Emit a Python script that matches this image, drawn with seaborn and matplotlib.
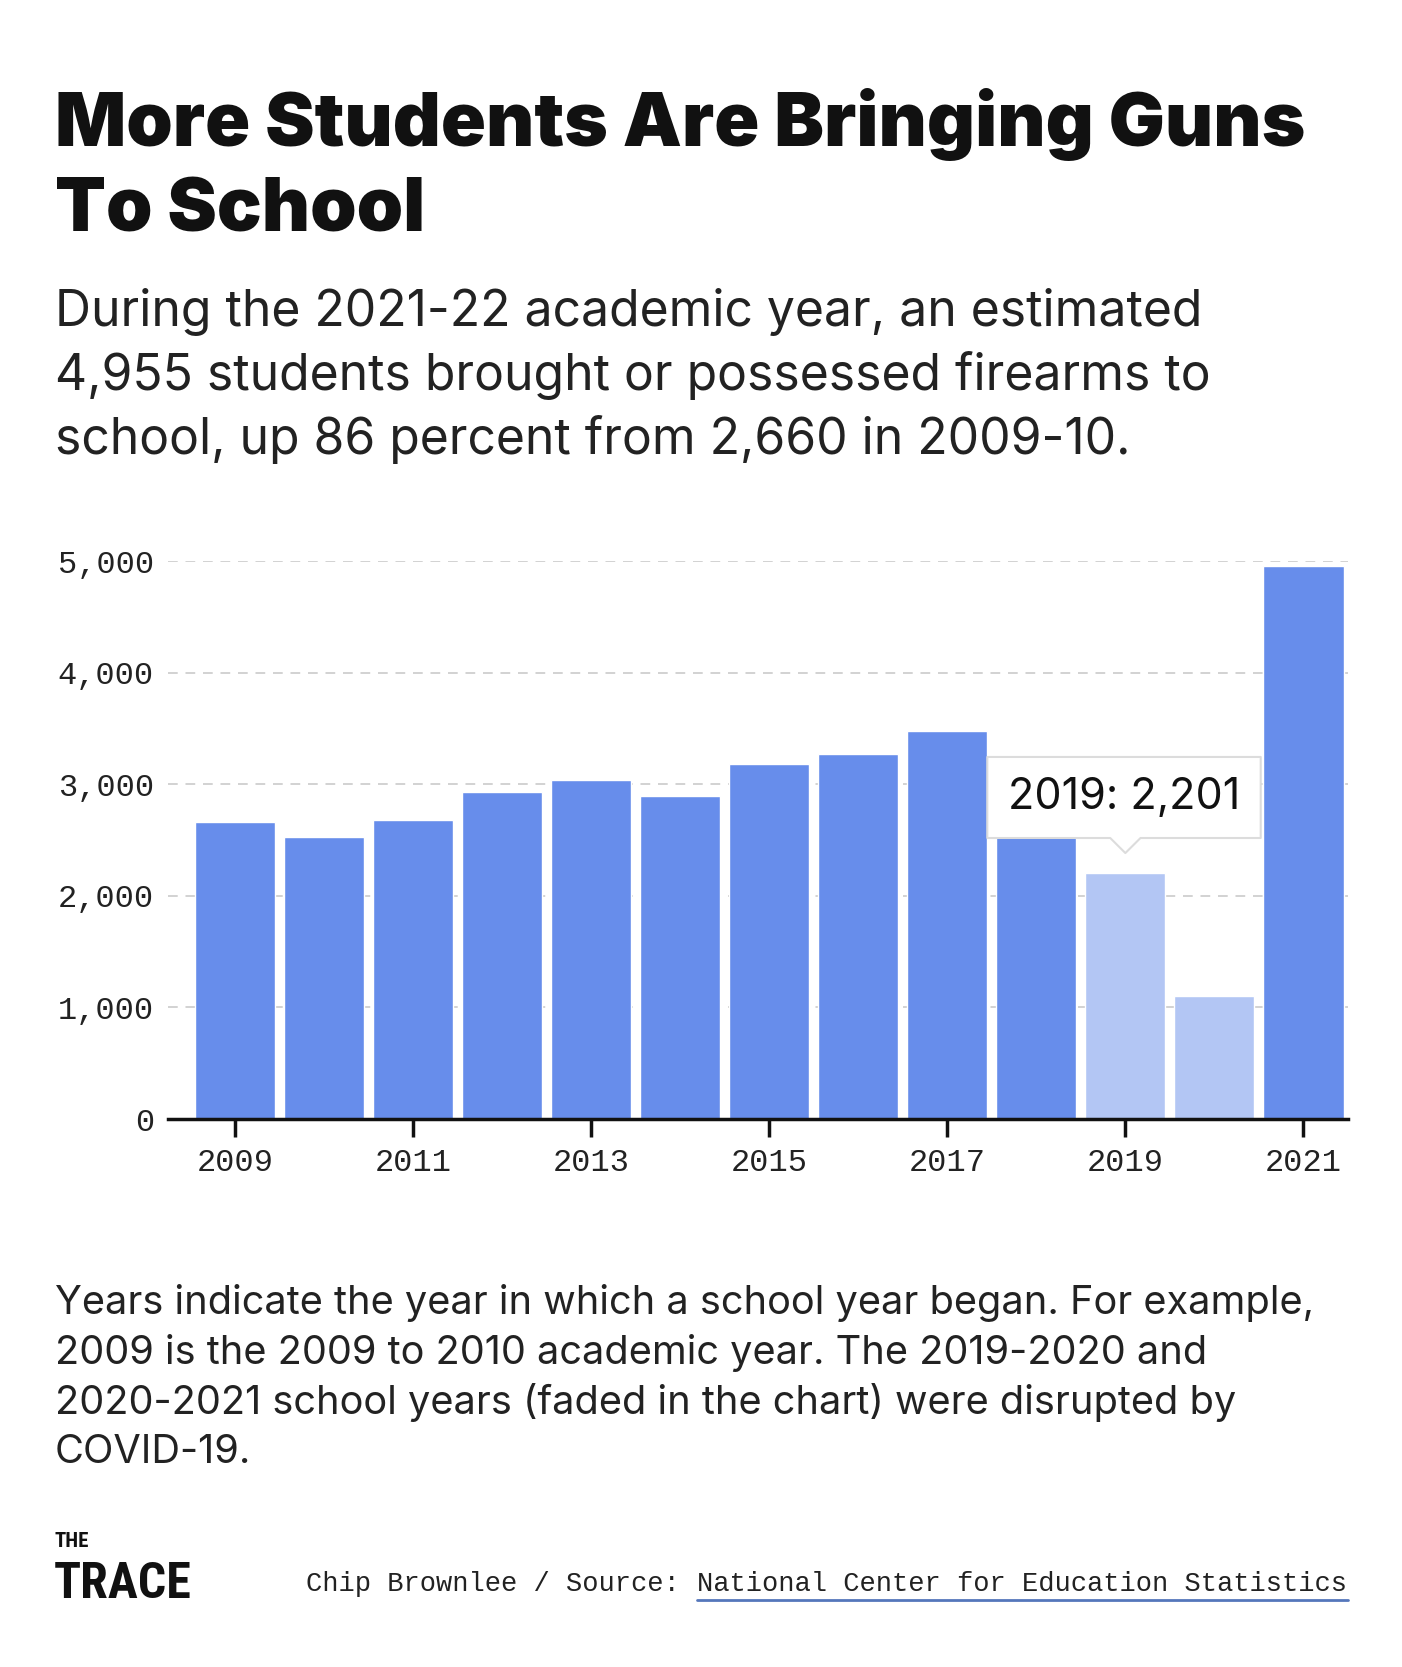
import matplotlib
matplotlib.use("Agg")
import matplotlib.pyplot as plt
import seaborn as sns
import pandas as pd
from matplotlib.patches import Polygon
from matplotlib.lines import Line2D
from matplotlib import font_manager

# ---- data ----
years = [2009, 2010, 2011, 2012, 2013, 2014, 2015, 2016, 2017, 2018, 2019, 2020, 2021]
students = [2660, 2530, 2680, 2930, 3040, 2890, 3180, 3270, 3480, 2600, 2201, 1100, 4955]
covid_years = [2019, 2020]
y_ticks = [0, 1000, 2000, 3000, 4000, 5000]
x_tick_years = [2009, 2011, 2013, 2015, 2017, 2019, 2021]

title_lines = ["More Students Are Bringing Guns", "To School"]
subtitle_lines = ["During the 2021-22 academic year, an estimated",
                  "4,955 students brought or possessed firearms to",
                  "school, up 86 percent from 2,660 in 2009-10."]
note_lines = ["Years indicate the year in which a school year began. For example,",
              "2009 is the 2009 to 2010 academic year. The 2019-2020 and",
              "2020-2021 school years (faded in the chart) were disrupted by",
              "COVID-19."]
tooltip_year = 2019

BLUE = "#678DEB"
FADED = "#B3C6F4"

sns.set_theme(style="white")
plt.rcParams['font.family'] = ['Inter', 'DejaVu Sans']

available = {f.name for f in font_manager.fontManager.ttflist}
condensed = None
for cand in ['Roboto Condensed', 'Liberation Sans Narrow', 'DejaVu Sans Condensed',
             'Open Sans Condensed', 'Noto Sans Condensed']:
    if cand in available:
        condensed = cand
        break

W, H = 1402, 1667
fig = plt.figure(figsize=(W / 100, H / 100), dpi=100)
fig.patch.set_facecolor("white")

ax = fig.add_axes([168 / W, 1 - 1119 / H, (1348 - 168) / W, (1119 - 561) / H])

df = pd.DataFrame({"year": [str(y) for y in years], "students": students})
palette = {str(y): (FADED if y in covid_years else BLUE) for y in years}
sns.barplot(data=df, x="year", y="students", hue="year", palette=palette,
            legend=False, width=0.9, saturation=1, ax=ax, zorder=3)

ax.set_xlim(-0.75, 12.5)
ax.set_ylim(0, 5000)
ax.set_xlabel("")
ax.set_ylabel("")
for s in ["top", "right", "left"]:
    ax.spines[s].set_visible(False)
ax.spines["bottom"].set_color("#111111")
ax.spines["bottom"].set_linewidth(2.5)
ax.spines["bottom"].set_zorder(5)

mono = ['Liberation Mono', 'DejaVu Sans Mono']
ax.set_yticks(y_ticks)
ax.set_yticklabels([f"{v:,}" for v in y_ticks], family=mono, fontsize=23, color="#222222")
ax.tick_params(axis="y", length=0, pad=10)
ax.yaxis.grid(True, color="#d2d2d2", linestyle=(0, (5, 4)), linewidth=1.4, zorder=0)
ax.xaxis.grid(False)

xt = [years.index(y) for y in x_tick_years]
ax.set_xticks(xt)
ax.set_xticklabels([str(y) for y in x_tick_years], family=mono, fontsize=23, color="#222222")
ax.tick_params(axis="x", direction="out", length=13, width=2.5, color="#111111", pad=8, bottom=True)

# ---- tooltip ----
ti = years.index(tooltip_year)
tv = students[ti]
x0, x1 = ti - 1.55, ti + 1.52
yb, yt = 2518, 3244
tip_y = 2383
hw = 0.17
poly = Polygon([(x0, yb), (ti - hw, yb), (ti, tip_y), (ti + hw, yb), (x1, yb), (x1, yt), (x0, yt)],
               closed=True, facecolor="white", edgecolor="#dcdcdc", linewidth=1.5,
               zorder=10, clip_on=False, joinstyle="round")
ax.add_patch(poly)
ax.text((x0 + x1) / 2, (yb + yt) / 2, f"{tooltip_year}: {tv:,}", ha="center", va="center",
        fontsize=31, color="#111111", zorder=11)

# ---- texts ----
LX = 55 / W
title_kw = dict(fontsize=53.6, fontweight="black", color="#111111", va="baseline", ha="left")
fig.text(LX, 1 - 146 / H, title_lines[0], **title_kw)
fig.text(LX, 1 - 232 / H, title_lines[1], **title_kw)

for line, yb_px in zip(subtitle_lines, [326, 390, 454]):
    fig.text(LX, 1 - yb_px / H, line, fontsize=35.9, color="#222222", va="baseline", ha="left")

for line, yb_px in zip(note_lines, [1314, 1364, 1414, 1463]):
    fig.text(LX, 1 - yb_px / H, line, fontsize=28.6, color="#222222", va="baseline", ha="left")

# logo
if condensed:
    logo_fam = [condensed, 'DejaVu Sans']
    the_size, trace_size, logo_w = 15, 36, "bold"
else:
    logo_fam = ['Inter', 'DejaVu Sans']
    the_size, trace_size, logo_w = 12, 26, "black"
fig.text(LX, 1 - 1547 / H, "THE", family=logo_fam, fontweight=logo_w,
         fontsize=the_size, color="#111111", va="baseline")
fig.text(LX - 1 / W, 1 - 1598 / H, "TRACE", family=logo_fam, fontweight=logo_w,
         fontsize=trace_size, color="#111111", va="baseline")

# footer
fig.text(306 / W, 1 - 1591 / H, "Chip Brownlee / Source:", family=mono,
         fontsize=19.5, color="#222222", va="baseline", ha="left")
fig.text(697 / W, 1 - 1591 / H, "National Center for Education Statistics", family=mono,
         fontsize=19.5, color="#222222", va="baseline", ha="left")
fig.add_artist(Line2D([697 / W, 1348 / W], [1 - 1600 / H, 1 - 1600 / H],
                      transform=fig.transFigure, color="#5577bb", linewidth=2))

fig.savefig("out.png", dpi=100, facecolor="white")
